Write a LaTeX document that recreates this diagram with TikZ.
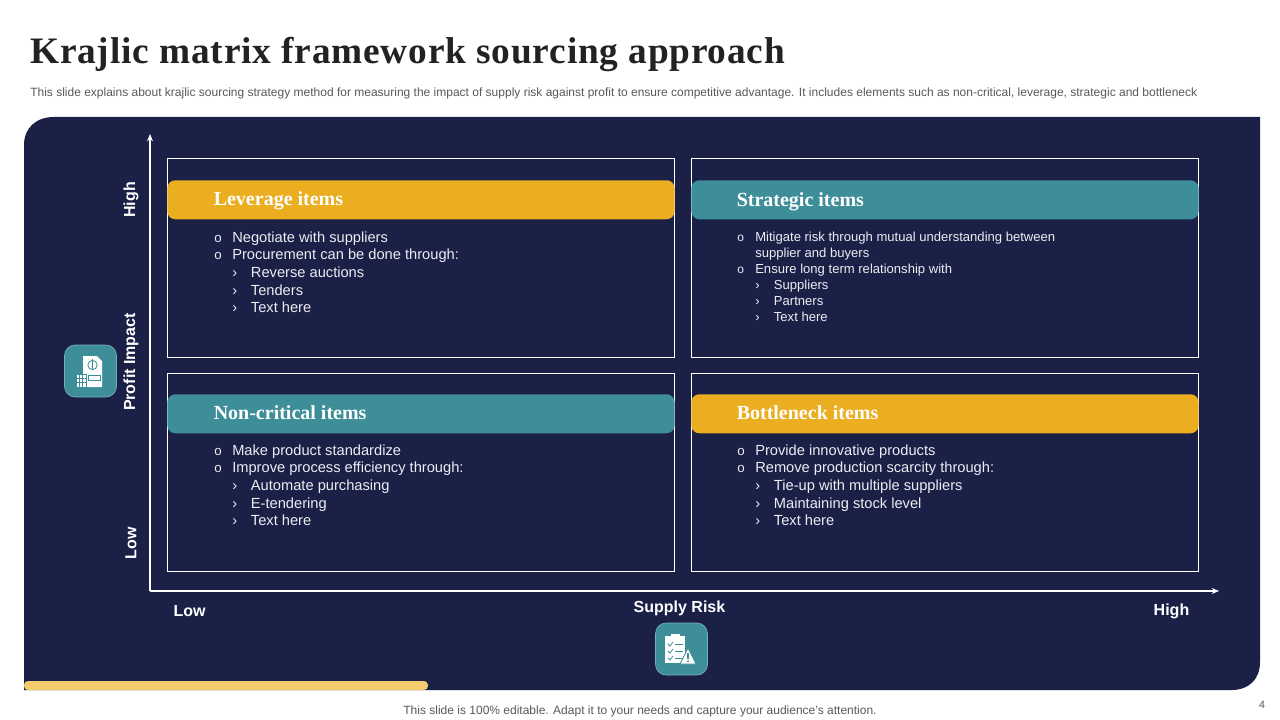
\documentclass[tikz,border=0pt]{standalone}
\usepackage{fontspec}
\setmainfont{Liberation Sans}
\newfontfamily\headfont[LetterSpace=2.2]{Liberation Serif}
\newfontfamily\cardfont{Liberation Serif}
\usetikzlibrary{arrows.meta}
\definecolor{navy}{HTML}{1B2146}
\definecolor{gold}{HTML}{EAAE20}
\definecolor{teal2}{HTML}{3E8E9A}
\definecolor{sand}{HTML}{F5CC6B}
\definecolor{greytxt}{HTML}{595959}
\definecolor{titlec}{HTML}{222222}
\definecolor{bodyc}{HTML}{ECECF2}
\tikzset{
  x=0.75pt,y=-0.75pt,
  quad/.style={draw=white,line width=0.8pt,fill=none,anchor=north west,minimum width=380.25pt,inner sep=0pt},
  band/.style={rounded corners=6pt,anchor=north west,minimum width=380.5pt,minimum height=29.25pt,inner sep=0pt},
  head/.style={anchor=west,inner sep=0pt,text=white,font=\cardfont\bfseries\fontsize{15}{17}\selectfont},
  biglist/.style={anchor=north west,inner sep=0pt,text=bodyc,align=left,font=\fontsize{11}{13.25}\selectfont},
  smalllist/.style={anchor=north west,inner sep=0pt,text=bodyc,align=left,font=\fontsize{9.8}{12}\selectfont},
  axislab/.style={inner sep=0pt,text=white,font=\bfseries\fontsize{12}{14}\selectfont},
  iconbox/.style={fill=teal2,draw=teal2!70!white,line width=0.5pt,rounded corners=8pt},
  axisline/.style={draw=white,line width=0.8pt,-{Stealth[length=5.5pt,width=4.5pt]}}
}
\newcommand{\biglines}[5]{%
  \tabular[t]{@{}p{13.5pt}@{}p{14pt}@{}l@{}}
  {\fontsize{10}{1}\selectfont o} & \multicolumn{2}{@{}l@{}}{#1}\\[0pt]
  {\fontsize{10}{1}\selectfont o} & \multicolumn{2}{@{}l@{}}{#2}\\[0pt]
  & › & #3\\[0pt]
  & › & #4\\[0pt]
  & › & #5
  \endtabular}
\begin{document}
\begin{tikzpicture}
\useasboundingbox (0,0) rectangle (1280,720);
\fill[white] (0,0) rectangle (1280,720);
% panel
\fill[navy] (24,690) -- (24,145) .. controls (24,128) and (36,117) .. (54,117)
  -- (1260,117) -- (1260,662) .. controls (1260,680) and (1248,690) .. (1232,690) -- cycle;
\fill[sand,rounded corners=3pt] (24,681) rectangle (428,690);
% title
\node[anchor=west,inner sep=0pt,text=titlec,font=\headfont\bfseries\fontsize{28}{31}\selectfont] (title) at (30,54) {Krajlic matrix framework sourcing approach};
\node[anchor=west,inner sep=0pt,text=greytxt,font=\fontsize{9}{10}\selectfont] (sub) at (30,93.5) {This slide explains about krajlic sourcing strategy method for measuring the impact of supply risk against profit to  ensure competitive advantage. It includes elements such as non-critical, leverage, strategic and bottleneck};
% axes
\coordinate (org) at (150,591);
\coordinate (ytop) at (150,134);
\coordinate (xend) at (1219,591);
\draw[axisline] (org) -- (ytop);
\draw[axisline] (org) -- (xend);
% quadrants
\node[quad,minimum height=149.25pt] (q1) at (167,158) {};
\node[quad,minimum height=149.25pt] (q2) at (691,158) {};
\node[quad,minimum height=148.5pt] (q3) at (167,373) {};
\node[quad,minimum height=148.5pt] (q4) at (691,373) {};
% bands
\node[band,fill=gold] (b1) at (167,180) {};
\node[band,fill=teal2] (b2) at (691,180) {};
\node[band,fill=teal2] (b3) at (167,394) {};
\node[band,fill=gold] (b4) at (691,394) {};
\node[head] (h1) at (213.5,200.5) {Leverage items};
\node[head] (h2) at (736.5,202) {Strategic items};
\node[head] (h3) at (213.5,412.5) {Non-critical items};
\node[head] (h4) at (736.5,413) {Bottleneck items};
% lists
\node[biglist] (l1) at (214,229.5) {\biglines{Negotiate with suppliers}{Procurement can be done through:}{Reverse auctions}{Tenders}{Text here}};
\node[biglist] (l3) at (214,442.5) {\biglines{Make product standardize}{Improve process efficiency through:}{Automate purchasing}{E-tendering}{Text here}};
\node[biglist] (l4) at (737,442.5) {\biglines{Provide innovative products}{Remove production scarcity through:}{Tie-up with multiple suppliers}{Maintaining stock level}{Text here}};
\node[smalllist] (l2) at (737,230.5) {\tabular[t]{@{}p{13.5pt}@{}p{14pt}@{}l@{}}
  {\fontsize{9}{1}\selectfont o} & \multicolumn{2}{@{}l@{}}{Mitigate risk through mutual understanding between}\\
   & \multicolumn{2}{@{}l@{}}{supplier and buyers}\\
  {\fontsize{9}{1}\selectfont o} & \multicolumn{2}{@{}l@{}}{Ensure long term relationship with}\\
  & › & Suppliers\\
  & › & Partners\\
  & › & Text here
  \endtabular};
% axis labels
\node[axislab,rotate=90] (yhi) at (131,200) {High};
\node[axislab,rotate=90] (ymid) at (131,362) {Profit Impact};
\node[axislab,rotate=90] (ylo) at (131,543) {Low};
\node[axislab] (xlo) at (189.5,611.5) {Low};
\node[axislab] (xmid) at (679.5,608.5) {Supply Risk};
\node[axislab] (xhi) at (1171.5,611.5) {High};
% icon left
\node[iconbox,minimum width=39pt,minimum height=39pt,inner sep=0pt] (icoL) at (90.5,371) {};
\fill[white] (83,356) -- (97,356) -- (102,361) -- (102,387) -- (83,387) -- cycle;
\draw[teal2,line width=0.6pt] (92.5,365) circle (3.5pt);
\draw[teal2,line width=0.5pt] (92.5,359) -- (92.5,370);
\draw[teal2,line width=0.5pt] (88,375) rectangle (100,380);
\fill[white,draw=teal2,line width=0.5pt] (76,374) rectangle (86,387);
\foreach \a in {79,82}{\draw[teal2,line width=0.3pt] (\a,374) -- (\a,387);}
\foreach \b in {378,382}{\draw[teal2,line width=0.3pt] (76,\b) -- (86,\b);}
% icon bottom
\node[iconbox,minimum width=39pt,minimum height=39pt,inner sep=0pt] (icoB) at (681.5,649) {};
\fill[white] (665,636) rectangle (685,663);
\fill[white] (671,634) rectangle (680,638);
\foreach \b in {644,651,658}{
  \draw[teal2,line width=0.6pt] (668,\b) -- (670,\b+2) -- (673,\b-2);
  \draw[teal2,line width=0.5pt] (675,\b) -- (683,\b);
}
\fill[white,draw=teal2,line width=0.6pt,line join=round] (688,648) -- (696,664) -- (680,664) -- cycle;
\fill[teal2] (687.3,653) rectangle (688.7,659);
\fill[teal2] (688,661.3) circle (0.8pt);
% footer
\node[inner sep=0pt,text=greytxt,font=\fontsize{9}{10}\selectfont] (foot) at (640,711) {This slide is 100\% editable. Adapt it to your needs and capture your audience's attention.};
\node[inner sep=0pt,text=greytxt,font=\fontsize{8}{10}\selectfont] (pg) at (1262,705) {4};
\end{tikzpicture}
\end{document}
